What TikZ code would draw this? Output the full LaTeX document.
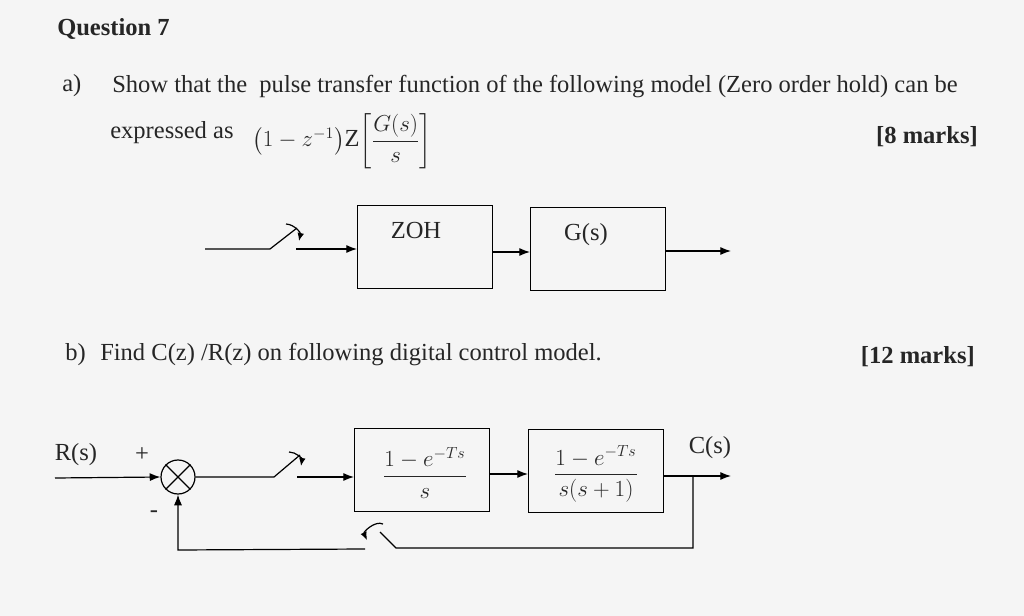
\documentclass[tikz,border=0pt]{standalone}
\usepackage{amsmath}
\usepackage{fontspec}
\setmainfont{Liberation Serif}
\usetikzlibrary{arrows.meta}
\begin{document}
\begin{tikzpicture}[x=0.75pt,y=-0.75pt,
  blk/.style={draw,line width=0.9pt,minimum width=101pt,minimum height=62pt,inner sep=0pt},
  ln/.style={line width=0.9pt},
  arr/.style={ln,-{Latex[length=8pt,width=6pt]}},
  txt/.style={font=\fontsize{18.4}{22}\selectfont,inner sep=0pt},
  every node/.style={text=black!85}]
\useasboundingbox[fill=black!4] (0,0) rectangle (1024,616);
\node[txt,font=\fontsize{18.4}{22}\selectfont\bfseries,anchor=west] (q) at (57,29) {Question 7};
\node[txt,anchor=west] (a) at (62,86) {a)};
\node[txt,anchor=west,text depth=0pt] (sh) at (112,84) {Show that the\ \ pulse transfer function of the following model (Zero order hold) can be};
\node[txt,anchor=west] (ex) at (110,133) {expressed as};
\node[txt,anchor=west] (f) at (252,141) {$\left(1-z^{-1}\right)\!\mathrm{Z}\!\left[\dfrac{G(s)}{s}\right]$};
\node[txt,font=\fontsize{18.4}{22}\selectfont\bfseries,anchor=east] (m8) at (978,137) {[8 marks]};
% part a diagram
\node[blk,anchor=north west] (zoh) at (357,205) {};
\node[txt] at (416,231) {ZOH};
\node[blk,anchor=north west] (gs) at (530,207) {};
\node[txt] at (586,235) {G(s)};
\coordinate (s1a) at (205,249);
\coordinate (s1b) at (270,249);
\coordinate (s1c) at (297,228);
\coordinate (s1d) at (296,249);
\draw[ln] (s1a) -- (s1b) -- (s1c);
\draw[ln,-{Latex[length=6pt,width=5pt]}] (286,224) to[bend left=50] (299,241);
\draw[arr] (s1d) -- (zoh.west|-s1d);
\draw[arr] (zoh.east|-0,252) -- (gs.west|-0,252);
\coordinate (oa) at (731,251);
\draw[arr] (gs.east|-oa) -- (oa);
% part b
\node[txt,anchor=west] (b) at (65,355) {b)};
\node[txt,anchor=west] (fd) at (100,355) {Find C(z) /R(z) on following digital control model.};
\node[txt,font=\fontsize{18.4}{22}\selectfont\bfseries,anchor=east] (m12) at (975,357) {[12 marks]};
\node[txt] (R) at (76,455) {R(s)};
\node[txt] (plus) at (142,455) {+};
\node[txt] (minus) at (154,514) {-};
\node[draw,ln,circle,inner sep=0pt,minimum size=25.5pt] (sum) at (178,477) {};
\draw[ln] (sum.45)--(sum.225) (sum.135)--(sum.315);
\coordinate (rin) at (55,478);
\draw[arr] (rin) -- (sum.west);
\node[blk,anchor=north west] (b1) at (354,428) {};
\node[txt] at (425,473) {$\dfrac{1-e^{-Ts}}{s}$};
\node[blk,anchor=north west] (b2) at (528,429) {};
\node[txt] at (596,474) {$\dfrac{1-e^{-Ts}}{s(s+1)}$};
\node[txt] (C) at (710,448) {C(s)};
\coordinate (s2b) at (274,477);
\coordinate (s2c) at (300,455);
\coordinate (s2d) at (297,477);
\draw[ln] (sum.east) -- (s2b) -- (s2c);
\draw[ln,-{Latex[length=6pt,width=5pt]}] (289,452) to[bend left=50] (301,466);
\draw[arr] (s2d) -- (b1.west|-s2d);
\draw[arr] (b1.east|-0,474) -- (b2.west|-0,474);
\coordinate (co) at (731,476);
\coordinate (br) at (693,476);
\draw[arr] (b2.east|-co) -- (co);
\coordinate (fb1) at (693,548);
\coordinate (fb2) at (396,548);
\coordinate (fb3) at (380,532);
\coordinate (fb4) at (365,549);
\coordinate (fb5) at (178,550);
\draw[ln] (br) -- (fb1) -- (fb2) -- (fb3);
\draw[ln,-{Latex[length=6pt,width=5pt]}] (383,524) to[bend right=70] (367,540);
\draw[arr] (fb4) -- (fb5) -- (sum.south);
\end{tikzpicture}
\end{document}
